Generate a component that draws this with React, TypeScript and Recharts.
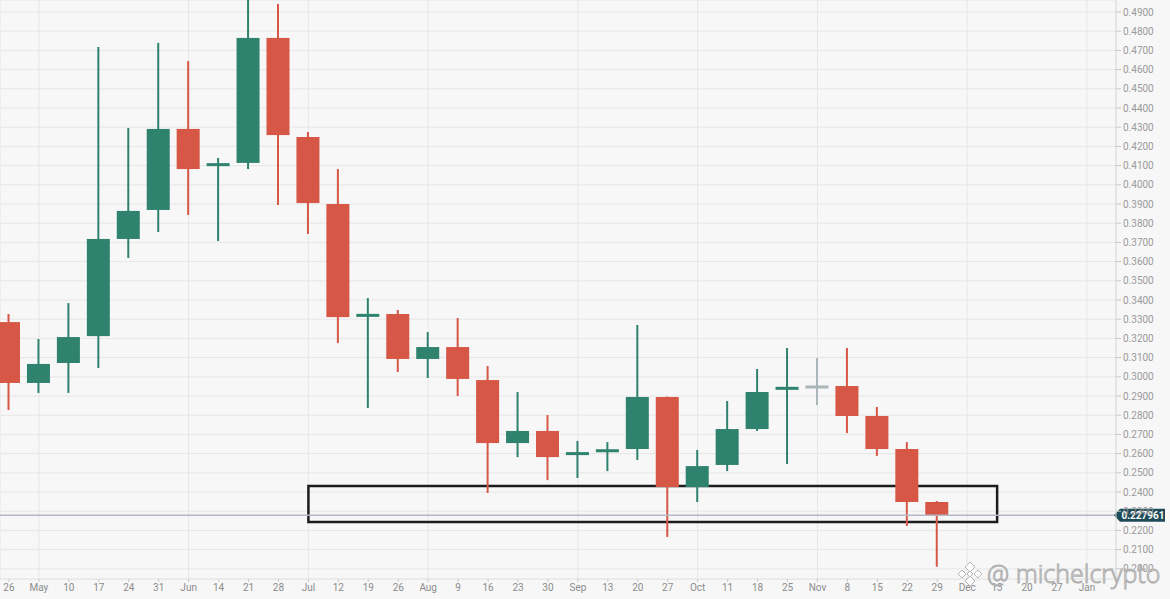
import { ComposedChart, Bar, XAxis, YAxis, CartesianGrid, ReferenceLine, ReferenceArea } from 'recharts'

// weekly candles, Apr 26 -> Nov 29 (axis runs on to Jan 3)
const weekLabels = [
  '26', 'May', '10', '17', '24', '31', 'Jun', '14', '21', '28', 'Jul', '12', '19', '26',
  'Aug', '9', '16', '23', '30', 'Sep', '13', '20', '27', 'Oct', '11', '18', '25',
  'Nov', '8', '15', '22', '29', 'Dec', '13', '20', '27', 'Jan',
]
const monthStarts = [1, 6, 10, 14, 19, 23, 27, 32, 36]

const opens = [
  0.3285, 0.2968, 0.3072, 0.3212, 0.3718, 0.3869, 0.4291, 0.409, 0.4114, 0.4765, 0.4249,
  0.39, 0.331, 0.3327, 0.3093, 0.3155, 0.2983, 0.2655, 0.2718, 0.259, 0.2605, 0.2624,
  0.2895, 0.2426, 0.2541, 0.2728, 0.293, 0.2947, 0.2952, 0.2796, 0.2624, 0.2348,
]
const closes = [
  0.2968, 0.3067, 0.3207, 0.3718, 0.3864, 0.4291, 0.4082, 0.4105, 0.4765, 0.4259, 0.3905,
  0.3311, 0.332, 0.3093, 0.3155, 0.2989, 0.2655, 0.2718, 0.2582, 0.26, 0.2615, 0.2895,
  0.2426, 0.2535, 0.2728, 0.2921, 0.294, 0.2947, 0.2796, 0.2624, 0.2348, 0.228,
]
const highs = [
  0.3327, 0.3197, 0.3384, 0.4718, 0.4296, 0.4739, 0.4645, 0.414, 0.499, 0.4942, 0.4275,
  0.4082, 0.341, 0.3348, 0.3233, 0.3306, 0.3056, 0.2921, 0.2801, 0.2666, 0.266, 0.327,
  0.2897, 0.2619, 0.2874, 0.3041, 0.315, 0.3098, 0.315, 0.2843, 0.266, 0.2353,
]
const lows = [
  0.2827, 0.2916, 0.2916, 0.3046, 0.3619, 0.3754, 0.3843, 0.3707, 0.4082, 0.3895, 0.3744,
  0.3176, 0.2838, 0.3025, 0.2994, 0.29, 0.2395, 0.2582, 0.2462, 0.2473, 0.2509, 0.2567,
  0.2166, 0.2348, 0.2509, 0.2718, 0.2546, 0.2853, 0.2707, 0.2588, 0.2223, 0.2011,
]

const yTicks = [
  0.2, 0.21, 0.22, 0.23, 0.24, 0.25, 0.26, 0.27, 0.28, 0.29, 0.3, 0.31, 0.32, 0.33, 0.34,
  0.35, 0.36, 0.37, 0.38, 0.39, 0.4, 0.41, 0.42, 0.43, 0.44, 0.45, 0.46, 0.47, 0.48, 0.49,
]
const xTicks = weekLabels.map((_, i) => i)

const lastPrice = 0.227961
const box = { x1: 10, x2: 33, y1: 0.2244, y2: 0.2431 }

const UP = '#2e826e'
const DOWN = '#d65746'
const FLAT = '#aab6ba'
const X_DOMAIN = [-0.3, 36.97]

const rows = opens.map((o, i) => ({
  idx: i,
  open: o,
  close: closes[i],
  high: highs[i],
  low: lows[i],
  range: [lows[i], highs[i]],
}))

function Candle(props: any) {
  const { x, y, width, height, payload } = props
  const { open, close, high, low } = payload
  const h = Math.abs(height)
  const top = height < 0 ? y + height : y
  const ratio = high === low ? 0 : h / (high - low)
  const color = close > open ? UP : close < open ? DOWN : FLAT
  const bodyTop = top + (high - Math.max(open, close)) * ratio
  let bodyH = Math.abs(open - close) * ratio
  const thin = bodyH < 3
  if (thin) bodyH = 3
  const cx = x + width / 2
  return (
    <g>
      <line x1={cx} x2={cx} y1={top} y2={top + h} stroke={color} strokeWidth={2} />
      <rect x={x} y={bodyTop - (thin ? 1.5 : 0)} width={width} height={bodyH} fill={color} />
    </g>
  )
}

function PriceTag(props: any) {
  const { viewBox } = props
  const x = viewBox.x + viewBox.width - 2
  const y = viewBox.y
  return (
    <g>
      <path
        d={`M${x},${y} L${x + 6},${y - 6.5} L${x + 51},${y - 6.5} L${x + 51},${y + 6.5} L${x + 6},${y + 6.5} Z`}
        fill="#1d4b57"
      />
      <text x={x + 29} y={y + 3.5} textAnchor="middle" fill="#fff" fontSize={10} fontWeight={700}
        fontFamily="Roboto, sans-serif">
        {lastPrice.toFixed(6)}
      </text>
    </g>
  )
}

export default function App() {
  return (
    <div style={{ position: 'absolute', left: 0, top: 0, width: 1170, height: 599, background: '#f7f7f7' }}>
      <ComposedChart width={1170} height={599} data={rows} margin={{ top: 0, right: 0, left: 0, bottom: 0 }}>
        <CartesianGrid vertical={false} stroke="#e6e6e6" />
        <CartesianGrid horizontal={false} xAxisId="months" stroke="#e6e6e6" />
        <XAxis
          xAxisId="months"
          dataKey="idx"
          type="number"
          domain={X_DOMAIN}
          allowDataOverflow
          ticks={monthStarts}
          hide
        />
        <XAxis
          dataKey="idx"
          type="number"
          domain={X_DOMAIN}
          allowDataOverflow
          ticks={xTicks}
          interval={0}
          tickFormatter={(v: number) => weekLabels[v] ?? ''}
          tick={{ fontSize: 10, fill: '#8c8c8c', fontFamily: 'Roboto, sans-serif' }}
          tickSize={3}
          tickLine={{ stroke: '#c8c8c8' }}
          axisLine={{ stroke: '#e6e6e6' }}
          height={20}
        />
        <YAxis
          orientation="right"
          domain={[0.1947, 0.49625]}
          allowDataOverflow
          ticks={yTicks}
          interval={0}
          tickFormatter={(v: number) => v.toFixed(4)}
          tick={{ fontSize: 10, fill: '#9a9a9a', fontFamily: 'Roboto, sans-serif' }}
          tickSize={5}
          tickLine={{ stroke: '#c8c8c8' }}
          axisLine={{ stroke: '#dcdcdc' }}
          width={54}
        />
        <ReferenceLine y={lastPrice} stroke="#b4b7c6" strokeWidth={1.5} label={<PriceTag />} />
        <Bar dataKey="range" shape={<Candle />} barSize={23} isAnimationActive={false} />
        <ReferenceArea
          x1={box.x1}
          x2={box.x2}
          y1={box.y1}
          y2={box.y2}
          fill="none"
          fillOpacity={0}
          stroke="#1c1c1c"
          strokeWidth={2.5}
        />
      </ComposedChart>
      <svg width={225} height={50} style={{ position: 'absolute', left: 945, top: 552, pointerEvents: 'none' }}>
        <g transform="translate(25,22)" fill="#fff" fillOpacity={0.85} stroke="#b5b5b5" strokeWidth={1}>
          <path d="M0,-12 L5,-7 L0,-2 L-5,-7 Z" />
          <path d="M-8,-4 L-4,0 L-8,4 L-12,0 Z" />
          <path d="M8,-4 L12,0 L8,4 L4,0 Z" />
          <path d="M0,2 L5,7 L0,12 L-5,7 Z" />
          <path d="M0,-3 L3,0 L0,3 L-3,0 Z" />
        </g>
        <text x={42} y={31} fontSize={25} fontFamily="'Open Sans', sans-serif" fontWeight={300}
          fill="#fff" fillOpacity={0.85} stroke="#b0b0b0" strokeWidth={1}>
          @ michelcrypto
        </text>
      </svg>
    </div>
  )
}
